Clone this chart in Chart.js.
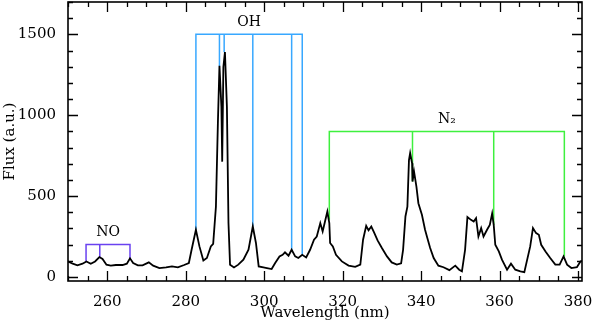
<!DOCTYPE html>
<html>
<head>
<meta charset="utf-8">
<script src="https://cdn.jsdelivr.net/npm/chart.js@4.4.1/dist/chart.umd.min.js"></script>
<style>
  html, body { margin: 0; padding: 0; background: #fff; }
  #wrap { width: 595px; height: 325px; }
</style>
</head>
<body>
<div id="wrap"><canvas id="spec"></canvas></div>
<script>
// spectrum: wavelength (nm) and flux (a.u.)
const wavelength = [
  250, 251.2, 252.4, 253.7, 254.7, 255.8, 256.9, 258, 258.8, 259.8,
  260.9, 262.2, 263.9, 265, 265.8, 266.6, 267.8, 269, 270.6, 271.7,
  273.3, 275, 276.5, 278, 279.6, 280.8, 281.5, 282.6, 283.5, 284.5,
  285.4, 286.4, 287, 287.7, 288.2, 288.6, 289.1, 289.3, 289.6, 290,
  290.5, 290.9, 291.3, 292.3, 293.4, 294.7, 296, 297.1, 297.9, 298.6,
  299.8, 300.7, 301.9, 302.8, 303.9, 304.7, 305.3, 306.2, 307, 307.9,
  308.7, 309.7, 310.7, 311.7, 312.7, 313.4, 314.3, 314.9, 315.5, 316.1,
  316.6, 316.8, 317.5, 318.3, 319.8, 321.5, 323.2, 324.5, 325.2, 326,
  326.6, 327.3, 328, 328.9, 330, 331.3, 332.5, 333.8, 334.9, 335.4,
  336, 336.5, 336.9, 337.2, 337.7, 337.8, 338.2, 338.8, 339.3, 340.2,
  341, 341.6, 342.3, 343.2, 344.4, 345.7, 347.2, 348.7, 349.7, 350.4,
  351.2, 351.8, 352.7, 353.4, 354, 354.6, 355.3, 355.9, 356.8, 357.5,
  358.1, 358.5, 358.9, 359.8, 360.6, 361.9, 362.9, 364, 365.3, 366.3,
  367.8, 368.5, 369.3, 370, 370.6, 371.7, 372.9, 374.2, 375.3, 376.3,
  377.2, 378.3, 379.7, 380.6, 381
];
const flux = [
  96, 82, 72, 82, 96, 82, 96, 123, 111, 76,
  70, 74, 74, 82, 115, 86, 72, 72, 90, 70,
  55, 59, 65, 59, 74, 86, 168, 292, 189, 102,
  117, 189, 205, 435, 950, 1305, 1052, 713, 1298, 1390,
  1052, 333, 76, 59, 76, 107, 168, 312, 210, 65,
  59, 55, 49, 86, 127, 137, 152, 131, 168, 127,
  117, 137, 121, 168, 230, 250, 333, 281, 343, 404,
  333, 210, 189, 137, 96, 70, 62, 76, 230, 316,
  288, 312, 276, 226, 179, 127, 90, 76, 84, 168,
  374, 435, 723, 766, 703, 590, 651, 559, 456, 384,
  292, 240, 179, 117, 70, 60, 42, 70, 45, 35,
  168, 370, 353, 343, 364, 250, 302, 250, 292, 322,
  392, 322, 199, 158, 107, 45, 82, 45, 35, 30,
  189, 302, 271, 261, 199, 158, 117, 76, 76, 127,
  76, 55, 60, 96, 100
];

// band-head markers: positions, where each tick meets the spectrum, bracket height
const noHeads = [254.6, 258.1, 265.8];
const noEnds = [96, 123, 115];
const noTop = 200;
const ohHeads = [282.6, 288.6, 289.8, 297.1, 307.0, 309.7];
const ohEnds = [292, 1305, 1390, 312, 168, 137];
const ohTop = 1500;
const n2Heads = [316.6, 337.8, 358.5, 376.5];
const n2Ends = [353, 590, 322, 127];
const n2Top = 900;

const bands = [
  { label: 'NO', heads: noHeads, ends: noEnds, top: noTop, color: '#6a42f0' },
  { label: 'OH', heads: ohHeads, ends: ohEnds, top: ohTop, color: '#38a8ff' },
  { label: 'N\u2082', heads: n2Heads, ends: n2Ends, top: n2Top, color: '#3ef03e' }
];

function bracketPath(heads, ends, top) {
  const pts = [{ x: heads[0], y: ends[0] }, { x: heads[0], y: top }];
  for (let i = 1; i < heads.length; i++) {
    pts.push({ x: heads[i], y: top }, { x: heads[i], y: ends[i] }, { x: heads[i], y: top });
  }
  return pts;
}

const serif = '"DejaVu Serif", "Liberation Serif", serif';

// frame, inward ticks on all four sides, band names
const frame = {
  id: 'frame',
  afterDatasetsDraw(chart) {
    const { ctx, chartArea: a, scales: { x, y } } = chart;
    ctx.save();
    ctx.strokeStyle = '#000';
    ctx.lineWidth = 1.3;
    ctx.beginPath();
    x.ticks.forEach(t => {
      const px = Math.round(x.getPixelForValue(t.value)) + 0.5;
      const len = t.value % 20 === 0 ? 10 : 5;
      ctx.moveTo(px, a.bottom); ctx.lineTo(px, a.bottom - len);
      ctx.moveTo(px, a.top); ctx.lineTo(px, a.top + len);
    });
    y.ticks.forEach(t => {
      const py = Math.round(y.getPixelForValue(t.value)) + 0.5;
      const len = t.value % 500 === 0 ? 10 : 5;
      ctx.moveTo(a.left, py); ctx.lineTo(a.left + len, py);
      ctx.moveTo(a.right, py); ctx.lineTo(a.right - len, py);
    });
    ctx.stroke();
    ctx.lineWidth = 1.6;
    ctx.strokeRect(a.left, a.top, a.right - a.left, a.bottom - a.top);

    ctx.fillStyle = '#000';
    ctx.font = '14px ' + serif;
    ctx.textAlign = 'center';
    ctx.textBaseline = 'middle';
    bands.forEach(b => {
      const mid = (b.heads[0] + b.heads[b.heads.length - 1]) / 2;
      ctx.fillText(b.label, x.getPixelForValue(mid), y.getPixelForValue(b.top) - 12);
    });
    ctx.restore();
  }
};

const datasets = [{
  data: wavelength.map((w, i) => ({ x: w, y: flux[i] })),
  borderColor: '#000',
  borderWidth: 1.8,
  pointRadius: 0,
  tension: 0
}];
bands.forEach(b => {
  datasets.push({
    data: bracketPath(b.heads, b.ends, b.top),
    borderColor: b.color,
    borderWidth: 1.5,
    pointRadius: 0,
    tension: 0
  });
});

new Chart(document.getElementById('spec'), {
  type: 'line',
  data: { datasets },
  options: {
    responsive: true,
    maintainAspectRatio: false,
    animation: false,
    layout: { padding: { top: 2, right: 13, left: 0, bottom: 0 } },
    plugins: { legend: { display: false }, tooltip: { enabled: false } },
    scales: {
      x: {
        type: 'linear',
        min: 250,
        max: 381,
        grid: { display: false },
        border: { display: false },
        afterFit(scale) {
          scale.height = 44;
          scale.paddingLeft = 0;
          scale.paddingRight = 0;
        },
        ticks: {
          stepSize: 5,
          includeBounds: false,
          autoSkip: false,
          maxRotation: 0,
          padding: 4,
          color: '#000',
          font: { family: serif, size: 15 },
          callback: v => (v % 20 === 0 ? String(v) : '')
        },
        title: {
          display: true,
          text: 'Wavelength (nm)',
          color: '#000',
          font: { family: serif, size: 15 },
          padding: { top: 0, bottom: 3 }
        }
      },
      y: {
        min: -25,
        max: 1700,
        grid: { display: false },
        border: { display: false },
        afterFit(scale) {
          scale.width = 68;
          scale.paddingTop = 0;
          scale.paddingBottom = 0;
        },
        ticks: {
          stepSize: 100,
          includeBounds: false,
          autoSkip: false,
          padding: 4,
          color: '#000',
          font: { family: serif, size: 15 },
          callback: v => (v % 500 === 0 ? String(v) : '')
        },
        title: {
          display: true,
          text: 'Flux (a.u.)',
          color: '#000',
          font: { family: serif, size: 15 },
          padding: { top: 1, bottom: 0 }
        }
      }
    }
  },
  plugins: [frame]
});
</script>
</body>
</html>
